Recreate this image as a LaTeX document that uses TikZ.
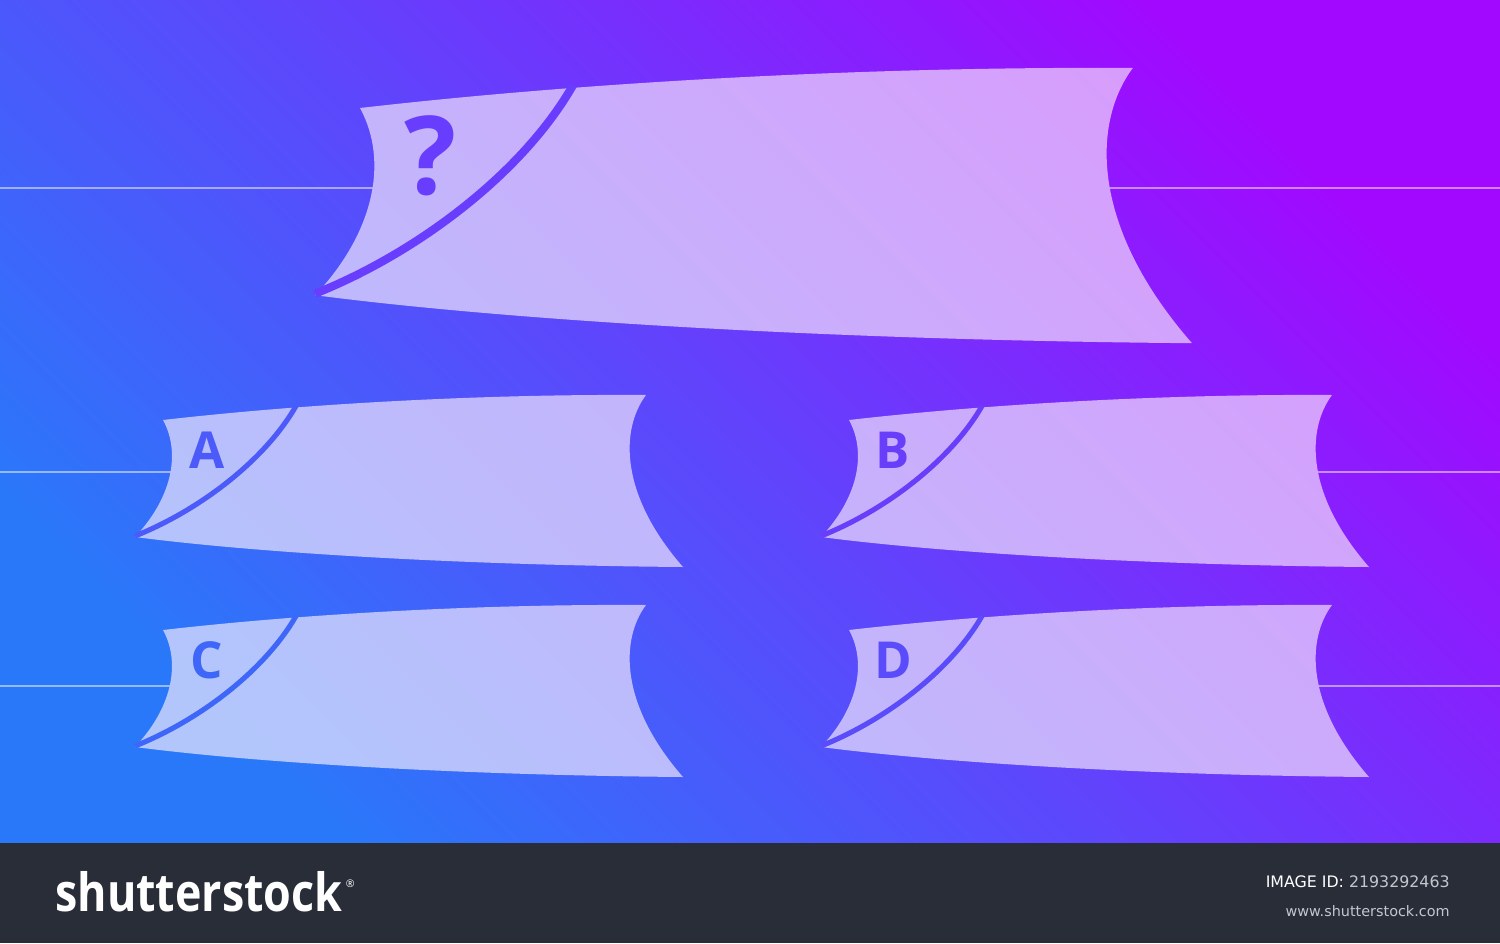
\documentclass[tikz,border=0pt]{standalone}
\usepackage{fontspec}
\setmainfont{Open Sans}
\newfontfamily\idfont{DejaVu Sans}
\usetikzlibrary{positioning}
\definecolor{bgblue}{RGB}{42,120,250}
\definecolor{bgmid}{RGB}{98,66,252}
\definecolor{bgpurple}{RGB}{162,8,255}
\definecolor{flagblue}{RGB}{178,198,252}
\definecolor{flagmid}{RGB}{198,178,252}
\definecolor{flagpink}{RGB}{218,154,252}
\definecolor{barcolor}{RGB}{40,45,56}
\definecolor{idgrey}{RGB}{196,198,206}

% outline of one banner, corner at (0,0), pixel units
\newcommand{\bannerpath}{(0,0) .. controls (157,-18) and (337,-26) .. (483,-25)
  .. controls (457,10) and (457,75) .. (520,147)
  .. controls (287,145) and (87,132) .. (-28,117)
  .. controls (7,80) and (19,35) .. (0,0) -- cycle}
\newcommand{\bannersep}{(133,-14) .. controls (102,40) and (37,90) .. (-28,116)}

\tikzset{
  bgshade/.style={bottom color=bgblue, top color=bgpurple, middle color=bgmid, shading angle=-45},
  flagshade/.style={bottom color=flagblue, top color=flagpink, middle color=flagmid, shading angle=-45},
  guideline/.style={draw=white, draw opacity=0.5, line width=1.2pt},
  flaglabel/.style={inner sep=0pt, anchor=center}
}

% #1 name, #2 corner, #3 scale, #4 label, #5 label size, #6 gap colour
\newcommand{\banner}[6]{%
  \begin{scope}[shift={#2}, scale=#3]
    \begin{scope}
      \clip \bannerpath;
      \shade[reset cm, flagshade] (0,0) rectangle (1500,843);
    \end{scope}
    \draw[draw=#6, line width=2.9pt*#3] \bannersep;
    \node[flaglabel, text=#6, font=\bfseries\fontsize{#5}{#5}\selectfont] (#1) at (44,30) {#4};
  \end{scope}}

\begin{document}
\begin{tikzpicture}[x=0.02cm, y=-0.02cm]
    \useasboundingbox (0,0) rectangle (1500,943);

    % Background
    \shade[bgshade] (0,0) rectangle (1500,843);

    % Guide lines
    \coordinate (topL) at (0,188);
    \coordinate (topR) at (1500,188);
    \draw[guideline] (topL) -- (topR);
    \coordinate (midL) at (0,472);
    \coordinate (midLend) at (200,472);
    \coordinate (midRend) at (1290,472);
    \coordinate (midR) at (1500,472);
    \draw[guideline] (midL) -- (midLend);
    \draw[guideline] (midRend) -- (midR);
    \coordinate (lowL) at (0,686);
    \coordinate (lowLend) at (200,686);
    \coordinate (lowRend) at (1290,686);
    \coordinate (lowR) at (1500,686);
    \draw[guideline] (lowL) -- (lowLend);
    \draw[guideline] (lowRend) -- (lowR);

    % Question banner
    \banner{question}{(360,108)}{1.6}{?}{62}{{rgb,255:red,105;green,61;blue,253}}

    % Answer banners
    \banner{ansA}{(163,420)}{1}{A}{29}{{rgb,255:red,75;green,90;blue,248}}
    \banner{ansB}{(849,420)}{1}{B}{29}{{rgb,255:red,104;green,62;blue,250}}
    \banner{ansC}{(163,630)}{1}{C}{29}{{rgb,255:red,62;green,102;blue,248}}
    \banner{ansD}{(849,630)}{1}{D}{29}{{rgb,255:red,90;green,76;blue,250}}

    % Footer bar
    \fill[barcolor] (0,843) rectangle (1500,943);
    \node[anchor=base west, inner sep=0pt, text=white] (logo) at (55,911)
          {\fontsize{30}{30}\selectfont\bfseries\scalebox{0.85}[1]{shutterstock}};
    \node[anchor=north west, inner sep=0pt, text=white, font=\fontsize{6}{6}\selectfont]
          (regmark) at ([xshift=1.5pt, yshift=-5pt]logo.north east) {®};
    \node[anchor=base east, inner sep=0pt, font=\idfont\fontsize{9}{10}\selectfont] (imageid) at (1450,887)
          {\textcolor{white}{IMAGE ID:} \textcolor{idgrey}{2193292463}};
    \node[anchor=base east, inner sep=0pt, text=idgrey, font=\idfont\fontsize{8.2}{10}\selectfont] (site) at (1450,916)
          {www.shutterstock.com};
\end{tikzpicture}
\end{document}
